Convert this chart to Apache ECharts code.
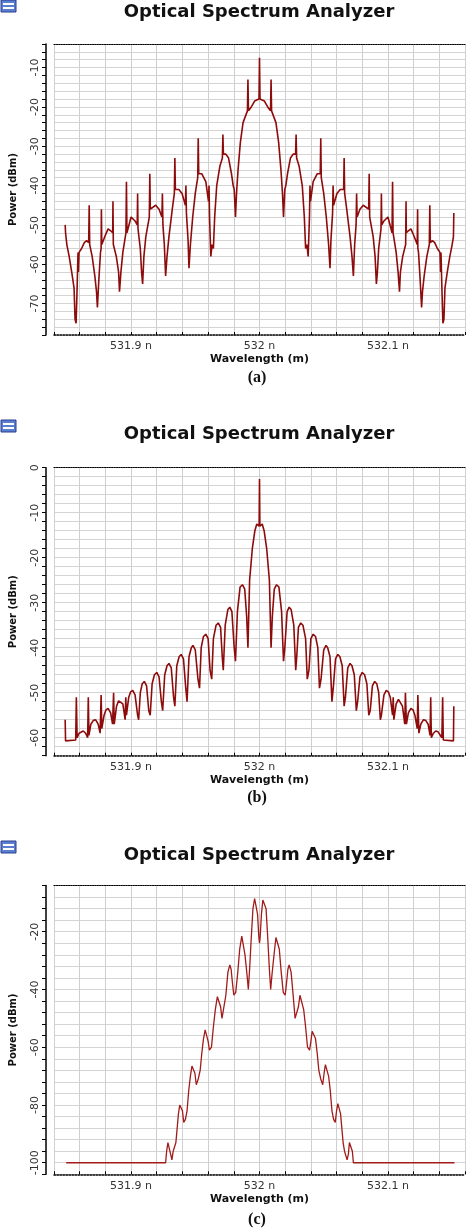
<!DOCTYPE html>
<html><head><meta charset="utf-8">
<script src="https://cdn.jsdelivr.net/npm/echarts@6/dist/echarts.min.js"></script>
<style>html,body{margin:0;padding:0;background:#fff}#c{width:474px;height:1230px}</style>
</head><body><div id="c"></div>
<script>
const titleText = 'Optical Spectrum Analyzer';
const panelLabels = ['(a)', '(b)', '(c)'];
const xTickLabels = { '531.9': '531.9 n', '532.0': '532 n', '532.1': '532.1 n' };

const waveA = [531.8487,531.8490,531.8500,531.8518,531.8538,531.8556,531.8564,531.8572,531.8580,531.8587,
531.8590,531.8595,531.8615,531.8636,531.8654,531.8670,531.8674,531.8678,531.8697,531.8718,
531.8731,531.8738,531.8749,531.8762,531.8767,531.8769,531.8772,531.8795,531.8821,531.8841,
531.8857,531.8859,531.8862,531.8885,531.8903,531.8910,531.8921,531.8936,531.8960,531.8964,
531.8968,531.9000,531.9031,531.9048,531.9051,531.9054,531.9072,531.9082,531.9090,531.9100,
531.9115,531.9142,531.9146,531.9150,531.9192,531.9218,531.9240,531.9244,531.9248,531.9259,
531.9269,531.9280,531.9295,531.9321,531.9337,531.9341,531.9345,531.9372,531.9397,531.9423,
531.9427,531.9431,531.9444,531.9451,531.9462,531.9480,531.9500,531.9519,531.9523,531.9527,
531.9551,531.9582,531.9603,531.9607,531.9611,531.9621,531.9631,531.9641,531.9651,531.9667,
531.9692,531.9711,531.9715,531.9719,531.9738,531.9759,531.9782,531.9795,531.9803,531.9813,
531.9821,531.9833,531.9851,531.9872,531.9906,531.9910,531.9914,531.9936,531.9962,531.9996,
532.0000,
532.0004,532.0038,532.0064,532.0086,532.0090,532.0094,532.0128,532.0149,532.0167,532.0179,
532.0187,532.0197,532.0205,532.0218,532.0241,532.0262,532.0281,532.0285,532.0289,532.0308,
532.0333,532.0349,532.0359,532.0369,532.0379,532.0389,532.0393,532.0397,532.0418,532.0449,
532.0473,532.0477,532.0481,532.0500,532.0520,532.0538,532.0549,532.0556,532.0569,532.0573,
532.0577,532.0603,532.0628,532.0655,532.0659,532.0663,532.0679,532.0705,532.0720,532.0731,
532.0741,532.0752,532.0756,532.0760,532.0782,532.0808,532.0850,532.0854,532.0858,532.0885,
532.0900,532.0910,532.0918,532.0928,532.0946,532.0949,532.0952,532.0969,532.1000,532.1032,
532.1036,532.1040,532.1064,532.1079,532.1090,532.1097,532.1115,532.1138,532.1141,532.1143,
532.1159,532.1179,532.1205,532.1228,532.1231,532.1233,532.1238,532.1251,532.1262,532.1269,
532.1282,532.1303,532.1322,532.1326,532.1330,532.1346,532.1364,532.1385,532.1405,532.1410,
532.1413,532.1420,532.1428,532.1436,532.1444,532.1462,532.1482,532.1500,532.1510,532.1513];
const powerA = [-50,-52,-55,-58,-62,-66,-74,-75,-66,-57,
-62,-57,-56,-54.5,-54,-54.5,-45,-55,-58,-63,
-67,-71,-64,-57,-56,-46,-55,-53,-51,-51.5,
-52,-44,-55,-58,-62,-67,-62,-57,-52,-39,
-52,-48,-49,-50,-42,-51,-56,-62,-65,-58,
-53,-48,-37,-46,-45,-46,-48,-42,-50,-55,
-63,-58,-53,-46,-42,-33,-41,-41,-42,-45,
-40,-47,-54,-61,-55,-48,-42,-38,-28,-37,
-37,-39,-44,-40,-48,-58,-55,-56,-48,-40,
-35,-33,-27,-32,-32,-33,-37,-40,-41,-48,
-42,-36,-29,-24,-21,-13,-21,-20,-18.5,-18,
-7.5,
-18,-18.5,-20,-21,-13,-21,-24,-29,-36,-42,
-48,-41,-40,-37,-33,-32,-32,-27,-33,-35,
-40,-48,-56,-55,-58,-48,-40,-44,-39,-37,
-37,-28,-38,-42,-48,-55,-61,-54,-47,-40,
-45,-42,-41,-41,-33,-42,-46,-53,-58,-63,
-55,-50,-42,-48,-46,-45,-46,-37,-48,-53,
-58,-65,-62,-56,-51,-42,-50,-49,-48,-52,
-39,-52,-57,-62,-67,-62,-58,-55,-44,-52,
-51.5,-51,-53,-55,-46,-56,-57,-64,-71,-67,
-63,-58,-55,-45,-54.5,-54,-54.5,-56,-57,-62,
-57,-66,-75,-74,-66,-62,-58,-55,-53,-47];

const waveB = [531.8487,531.8490,531.8569,531.8574,531.8580,531.8595,531.8610,531.8628,531.8646,531.8662,
531.8667,531.8672,531.8687,531.8705,531.8723,531.8744,531.8759,531.8767,531.8772,531.8790,
531.8805,531.8821,531.8841,531.8856,531.8864,531.8869,531.8887,531.8903,531.8918,531.8936,
531.8954,531.8959,531.8964,531.8982,531.8997,531.9013,531.9031,531.9051,531.9059,531.9072,
531.9087,531.9103,531.9121,531.9138,531.9149,531.9164,531.9182,531.9200,531.9218,531.9236,
531.9246,531.9262,531.9280,531.9295,531.9313,531.9331,531.9341,531.9356,531.9374,531.9390,
531.9408,531.9426,531.9436,531.9451,531.9469,531.9482,531.9500,531.9521,531.9533,531.9546,
531.9564,531.9582,531.9600,531.9615,531.9628,531.9641,531.9662,531.9679,531.9697,531.9710,
531.9718,531.9733,531.9754,531.9769,531.9785,531.9803,531.9813,531.9828,531.9849,531.9867,
531.9885,531.9900,531.9910,531.9923,531.9944,531.9964,531.9979,531.9997,532.0000,
532.0003,532.0021,532.0036,532.0056,532.0077,532.0090,532.0100,532.0115,532.0133,532.0151,
532.0172,532.0187,532.0197,532.0215,532.0231,532.0246,532.0267,532.0282,532.0290,532.0303,
532.0321,532.0338,532.0359,532.0372,532.0385,532.0400,532.0418,532.0436,532.0454,532.0467,
532.0479,532.0500,532.0518,532.0531,532.0549,532.0564,532.0574,532.0592,532.0610,532.0626,
532.0644,532.0659,532.0669,532.0687,532.0705,532.0720,532.0738,532.0754,532.0764,532.0782,
532.0800,532.0818,532.0836,532.0851,532.0862,532.0879,532.0897,532.0913,532.0928,532.0941,
532.0949,532.0969,532.0987,532.1003,532.1018,532.1036,532.1041,532.1046,532.1064,532.1082,
532.1097,532.1113,532.1131,532.1136,532.1144,532.1159,532.1179,532.1195,532.1210,532.1228,
532.1233,532.1241,532.1256,532.1277,532.1295,532.1313,532.1328,532.1333,532.1338,532.1354,
532.1372,532.1390,532.1405,532.1420,532.1426,532.1431,532.1510,532.1513];
const powerB = [-56,-60.7,-60.5,-51,-60,-59,-58.7,-58.5,-59,-60,
-51,-59.5,-57,-56.2,-56,-57,-59,-50.5,-58,-55,
-53.8,-53.5,-54.5,-57,-50,-57,-53,-51.8,-51.5,-52.5,
-56,-51,-55,-51,-49.8,-49.5,-50.5,-55,-56,-50,
-48,-47.5,-48.5,-54,-55,-48,-46,-45.5,-46.5,-52,
-54,-46,-44,-43.5,-44.5,-51,-53,-44,-42,-41.5,
-42.5,-49,-52,-42,-40,-39.5,-40.5,-47,-49,-40,
-37.5,-37,-38,-45,-47,-38,-35,-34.5,-35.5,-42,
-45,-35,-31.5,-31,-32,-40,-43,-32,-26.5,-26,
-27,-33,-40,-25,-18,-14,-12.5,-13,-2.5,
-13,-12.5,-14,-18,-25,-40,-33,-27,-26,-26.5,
-32,-43,-40,-32,-31,-31.5,-35,-45,-42,-35.5,
-34.5,-35,-38,-47,-45,-38,-37,-37.5,-40,-49,
-47,-40.5,-39.5,-40,-42,-52,-49,-42.5,-41.5,-42,
-44,-53,-51,-44.5,-43.5,-44,-46,-54,-52,-46.5,
-45.5,-46,-48,-55,-54,-48.5,-47.5,-48,-50,-56,
-55,-50.5,-49.5,-49.8,-51,-55,-51,-56,-52.5,-51.5,
-51.8,-53,-57,-50,-57,-54.5,-53.5,-53.8,-55,-58,
-50.5,-59,-57,-56,-56.2,-57,-59.5,-51,-60,-59,
-58.5,-58.7,-59,-60,-51,-60.5,-60.7,-53];

const waveC = [531.8495,531.9269,531.9277,531.9287,531.9300,531.9308,531.9318,531.9328,531.9338,531.9349,
531.9359,531.9369,531.9379,531.9390,531.9400,531.9410,531.9423,531.9436,531.9449,531.9462,
531.9474,531.9487,531.9497,531.9508,531.9523,531.9538,531.9551,531.9564,531.9577,531.9590,
531.9600,531.9610,531.9626,531.9641,531.9656,531.9672,531.9685,531.9697,531.9708,531.9723,
531.9738,531.9754,531.9769,531.9779,531.9790,531.9800,531.9815,531.9831,531.9846,531.9862,
531.9872,531.9887,531.9903,531.9913,531.9923,531.9936,531.9949,531.9962,531.9974,531.9985,
531.9995,532.0000,
532.0005,532.0015,532.0026,532.0038,532.0051,532.0064,532.0077,532.0087,532.0097,532.0113,
532.0128,532.0138,532.0154,532.0169,532.0185,532.0200,532.0210,532.0221,532.0231,532.0246,
532.0262,532.0277,532.0292,532.0303,532.0315,532.0328,532.0344,532.0359,532.0374,532.0390,
532.0400,532.0410,532.0423,532.0436,532.0449,532.0462,532.0477,532.0492,532.0503,532.0513,
532.0526,532.0538,532.0551,532.0564,532.0577,532.0590,532.0600,532.0610,532.0621,532.0631,
532.0641,532.0651,532.0662,532.0672,532.0682,532.0692,532.0700,532.0713,532.0723,532.0731,
532.1518];
const powerC = [-100,-100,-96,-93,-93,-97,-99,-96,-96,-93,
-88,-83,-80,-79.5,-82,-86,-85,-82,-75,-70,
-66.5,-66,-69,-73,-71,-68,-62,-57,-54,-54.5,
-58,-61,-60,-53,-47,-42.5,-42,-46,-50,-50,
-42,-34,-31.5,-33,-38,-42,-41,-34,-26,-21.5,
-22,-28,-35,-40,-33,-22,-12,-8.5,-9,-14,
-22,-24,
-22,-14,-9,-8.5,-12,-22,-33,-40,-35,-28,
-22,-21.5,-26,-34,-41,-42,-38,-33,-31.5,-34,
-42,-50,-50,-46,-42,-42.5,-47,-53,-60,-61,
-58,-54.5,-54,-57,-62,-68,-71,-73,-69,-66,
-66.5,-70,-75,-82,-85,-86,-82,-79.5,-80,-83,
-88,-93,-96,-96,-99,-97,-93,-93,-96,-100,
-100];

const yRanges = [
  { min: -78, max: -4, interval: 2, major: 10 },
  { min: -64, max: 0, interval: 2, major: 10 },
  { min: -104, max: -4, interval: 4, major: 20 }
];
const grids = [
  { left: 49, width: 416, top: 44, height: 291 },
  { left: 49, width: 416, top: 467.7, height: 288 },
  { left: 49, width: 416, top: 885.5, height: 288.8 }
];
const panelTop = [0, 420, 841];
const lineColor = '#8e0b0b';
const FONT = 'DejaVu Sans';

const chart = echarts.init(document.getElementById('c'), null, { renderer: 'canvas' });
const xAxes = [], yAxes = [], series = [], graphics = [];
grids.forEach((g, i) => {
  xAxes.push({
    gridIndex: i, type: 'value', min: 531.84, max: 532.16, interval: 0.02,
    position: 'bottom',
    axisLine: { show: true, onZero: false, lineStyle: { color: '#000', type: 'dotted', width: 1.5 } },
    axisTick: { show: true, inside: true, length: 3, lineStyle: { color: '#000' } },
    axisLabel: {
      color: '#333', fontFamily: FONT, fontSize: 11, margin: 6,
      formatter: v => { const k = v.toFixed(1); return Math.abs(v * 10 - Math.round(v * 10)) < 1e-6 ? (xTickLabels[k] || '') : ''; }
    },
    splitLine: { show: true, lineStyle: { color: '#cfcfcf', width: 1 } },
    name: 'Wavelength (m)', nameLocation: 'middle', nameGap: 19,
    nameTextStyle: { fontFamily: FONT, fontWeight: 'bold', fontSize: 11, color: '#111' }
  });
  xAxes.push({
    gridIndex: i, type: 'value', min: 531.84, max: 532.16, position: 'top',
    axisLine: { show: true, onZero: false, lineStyle: { color: '#000', type: 'dotted', width: 1.2 } },
    axisTick: { show: false }, axisLabel: { show: false }, splitLine: { show: false }
  });
  const r = yRanges[i];
  yAxes.push({
    gridIndex: i, type: 'value', min: r.min, max: r.max, interval: r.interval, offset: 8,
    axisLine: { show: true, onZero: false, lineStyle: { color: '#000', width: 1.5 } },
    axisTick: { show: true, length: 4, lineStyle: { color: '#000' } },
    axisLabel: {
      rotate: 90, color: '#333', fontFamily: FONT, fontSize: 11, margin: 5,
      formatter: v => (Math.abs(v % r.major) < 1e-9 && v !== r.min && v !== 0 || (i === 1 && v === 0)) ? String(v) : ''
    },
    splitLine: { show: true, lineStyle: { color: '#d4d4d4', width: 1 } },
    name: 'Power (dBm)', nameLocation: 'middle', nameGap: 28,
    nameTextStyle: { fontFamily: FONT, fontWeight: 'bold', fontSize: 10, color: '#111' }
  });
});
const sets = [[waveA, powerA], [waveB, powerB], [waveC, powerC]];
sets.forEach((s, i) => {
  series.push({
    type: 'line', xAxisIndex: i * 2, yAxisIndex: i, showSymbol: false, animation: false,
    data: s[0].map((w, k) => [w, s[1][k]]),
    lineStyle: { color: i === 2 ? '#a31a1a' : lineColor, width: i === 2 ? 1.3 : 1.6 }
  });
});
panelTop.forEach((t, i) => {
  graphics.push({ type: 'text', x: 259, y: t + 12 + (i === 0 ? 0 : 2), style: { text: titleText, font: 'bold 18px "DejaVu Sans"', fill: '#111', align: 'center', verticalAlign: 'middle' } });
  graphics.push({ type: 'rect', shape: { x: 1, y: t, width: 15, height: 12 }, style: { fill: '#5a7fd0', stroke: '#2a3f8f', lineWidth: 1 } });
  graphics.push({ type: 'rect', shape: { x: 3, y: t + 3, width: 11, height: 2 }, style: { fill: '#ffffff' } });
  graphics.push({ type: 'rect', shape: { x: 3, y: t + 7, width: 11, height: 2 }, style: { fill: '#ffffff' } });
});
const labelY = [378, 798, 1220];
labelY.forEach((y, i) => {
  graphics.push({ type: 'text', x: 257, y: y, style: { text: panelLabels[i], font: 'bold 16px "Liberation Serif"', fill: '#111', align: 'center', verticalAlign: 'middle' } });
});

chart.setOption({
  animation: false, backgroundColor: '#fff',
  grid: grids.map(g => Object.assign({ containLabel: false }, g)),
  xAxis: xAxes, yAxis: yAxes, series: series, graphic: graphics
});
</script></body></html>
